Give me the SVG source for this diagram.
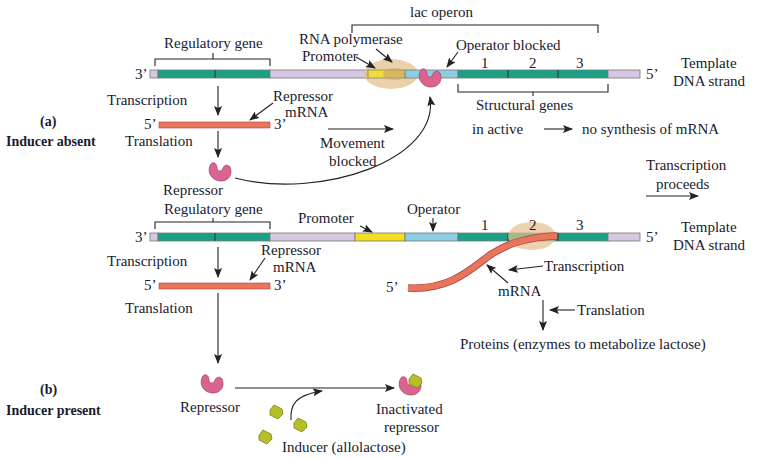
<svg xmlns="http://www.w3.org/2000/svg" width="761" height="460" viewBox="0 0 761 460">
<defs>
<marker id="ah" markerWidth="10" markerHeight="8" refX="9" refY="4" orient="auto" markerUnits="userSpaceOnUse"><path d="M0,0 L10,4 L0,8 L2,4 Z" fill="#222"/></marker>
<g id="rep"><path d="M-9,-6 C-14,2 -8,11 1,11 C9,11 13,4 10,-3 C8,-6 4,-5 3,-2 C2,2 -3,2 -3,-2 C-3,-6 -6,-9 -9,-6 Z" fill="#d9648f" stroke="#b04070" stroke-width="0.8"/></g>
<path id="ind" d="M-6,-2 L-2,-7 L6,-3 L7,2 L2,7 L-6,3 Z" fill="#b5bf2a" stroke="#7d8418" stroke-width="0.8"/>
</defs>
<style>
text{font-family:"Liberation Serif",serif;font-size:15px;fill:#1a1a2e}
.b{font-weight:bold;font-size:14px}
.ln{stroke:#222;stroke-width:1.1;fill:none}
.s{stroke:#777;stroke-width:0.8}
.lav{fill:#d6c8e2}.tea{fill:#1aa084}.yel{fill:#f3de22}.blu{fill:#8dcde2}.mr{fill:#e8765c;stroke:#a44;stroke-width:0.6}
</style>
<rect width="761" height="460" fill="#fff"/>
<g id="strandA">
<rect class="lav s" x="150" y="70" width="8" height="8"/>
<rect class="tea s" x="158" y="70" width="112" height="8"/>
<line x1="215" y1="70" x2="215" y2="78" stroke="#333"/>
<rect class="lav s" x="270" y="70" width="98" height="8"/>
<ellipse cx="391" cy="74" rx="27" ry="15" fill="#e3c08f" opacity="0.75"/>
<rect class="yel s" x="368" y="70" width="37" height="8" opacity="0.85"/>
<ellipse cx="395" cy="74" rx="12" ry="6" fill="#c8a070" opacity="0.6"/>
<rect class="blu s" x="405" y="70" width="53" height="8"/>
<rect class="tea s" x="458" y="70" width="150" height="8"/>
<line x1="508" y1="70" x2="508" y2="78" stroke="#333"/><line x1="558" y1="70" x2="558" y2="78" stroke="#333"/>
<rect class="lav s" x="608" y="70" width="32" height="8"/>
<use href="#rep" x="430" y="76"/>
</g>
<g id="textA">
<text x="410" y="17">lac operon</text>
<text x="164" y="48">Regulatory gene</text>
<text x="299" y="44">RNA polymerase</text>
<text x="302" y="61">Promoter</text>
<text x="456" y="50">Operator blocked</text>
<text x="481" y="68">1</text><text x="529" y="68">2</text><text x="576" y="68">3</text>
<text x="135" y="79">3’</text><text x="646" y="79">5’</text>
<text x="681" y="68">Template</text><text x="673" y="86">DNA strand</text>
<text x="107" y="105">Transcription</text>
<text x="273" y="101">Repressor</text><text x="285" y="117">mRNA</text>
<text x="144" y="129">5’</text><text x="274" y="129">3’</text>
<text x="40" y="126" class="b">(a)</text>
<text x="6" y="146" class="b">Inducer absent</text>
<text x="125" y="146">Translation</text>
<text x="320" y="148">Movement</text><text x="329" y="166">blocked</text>
<text x="476" y="110">Structural genes</text>
<text x="472" y="134">in active</text>
<text x="582" y="134">no synthesis of mRNA</text>
<text x="163" y="195">Repressor</text>
</g>
<rect class="mr" x="159" y="122" width="111" height="6" id="mrnaA"/>
<use href="#rep" x="220" y="170"/>
<g id="connA">
<path class="ln" d="M155,66 V59 H270 V66 M213,59 V53"/>
<path class="ln" d="M352,33 V25 H598 V33"/>
<path class="ln" d="M458,84 V92 H608 V84 M533,92 V96"/>
<line class="ln" x1="218" y1="86" x2="218" y2="115" marker-end="url(#ah)"/>
<line class="ln" x1="218" y1="131" x2="218" y2="157" marker-end="url(#ah)"/>
<line class="ln" x1="273" y1="103" x2="250" y2="120" marker-end="url(#ah)"/>
<line class="ln" x1="328" y1="129" x2="393" y2="129" marker-end="url(#ah)"/>
<line class="ln" x1="544" y1="129" x2="572" y2="129" marker-end="url(#ah)"/>
<path class="ln" d="M376,49 L392,62" marker-end="url(#ah)"/>
<line class="ln" x1="356" y1="57" x2="375" y2="68" marker-end="url(#ah)"/>
<line class="ln" x1="458" y1="52" x2="447" y2="67" marker-end="url(#ah)"/>
<path class="ln" d="M235,178 C320,200 440,160 430,97" marker-end="url(#ah)"/>
</g>
<g id="strandB">
<rect class="lav s" x="150" y="233" width="8" height="8"/>
<rect class="tea s" x="158" y="233" width="112" height="8"/>
<line x1="215" y1="233" x2="215" y2="241" stroke="#333"/>
<rect class="lav s" x="270" y="233" width="85" height="8"/>
<rect class="yel s" x="355" y="233" width="50" height="8"/>
<rect class="blu s" x="405" y="233" width="53" height="8"/>
<rect class="tea s" x="458" y="233" width="150" height="8"/>
<line x1="508" y1="233" x2="508" y2="241" stroke="#333"/><line x1="558" y1="233" x2="558" y2="241" stroke="#333"/>
<rect class="lav s" x="608" y="233" width="32" height="8"/>
<ellipse cx="532" cy="236" rx="24" ry="14" fill="#e3c08f" opacity="0.7"/>
<path d="M408,288 C450,290 470,270 490,255 C510,242 530,237 557,236" fill="none" stroke="#a44" stroke-width="7.5"/>
<path d="M408,288 C450,290 470,270 490,255 C510,242 530,237 557,236" fill="none" stroke="#e8765c" stroke-width="6"/>
</g>
<g id="textB">
<text x="646" y="170">Transcription</text><text x="656" y="189">proceeds</text>
<text x="164" y="214">Regulatory gene</text>
<text x="298" y="223">Promoter</text>
<text x="407" y="214">Operator</text>
<text x="481" y="230">1</text><text x="529" y="230">2</text><text x="576" y="230">3</text>
<text x="135" y="242">3’</text><text x="646" y="242">5’</text>
<text x="681" y="232">Template</text><text x="673" y="250">DNA strand</text>
<text x="261" y="255">Repressor</text><text x="273" y="272">mRNA</text>
<text x="107" y="266">Transcription</text>
<text x="144" y="290">5’</text><text x="274" y="290">3’</text>
<text x="386" y="292">5’</text>
<text x="544" y="271">Transcription</text>
<text x="498" y="296">mRNA</text>
<text x="577" y="315">Translation</text>
<text x="460" y="349">Proteins (enzymes to metabolize lactose)</text>
<text x="125" y="313">Translation</text>
<text x="40" y="394" class="b">(b)</text>
<text x="6" y="415" class="b">Inducer present</text>
<text x="180" y="412">Repressor</text>
<text x="376" y="414">Inactivated</text><text x="384" y="432">repressor</text>
<text x="282" y="452">Inducer (allolactose)</text>
</g>
<rect class="mr" x="159" y="283" width="111" height="6" id="mrnaB"/>
<use href="#rep" x="212" y="382"/>
<g id="inactRep"><use href="#rep" x="410" y="384"/><use href="#ind" x="415" y="381"/></g>
<g id="inducers"><use href="#ind" x="276" y="412"/><use href="#ind" x="300" y="425"/><use href="#ind" x="265" y="437"/></g>
<g id="connB">
<path class="ln" d="M646,196 H698" marker-end="url(#ah)"/>
<path class="ln" d="M155,229 V222 H270 V229 M213,222 V218"/>
<line class="ln" x1="218" y1="247" x2="218" y2="277" marker-end="url(#ah)"/>
<line class="ln" x1="218" y1="293" x2="218" y2="363" marker-end="url(#ah)"/>
<line class="ln" x1="265" y1="258" x2="250" y2="280" marker-end="url(#ah)"/>
<line class="ln" x1="360" y1="226" x2="372" y2="232" marker-end="url(#ah)"/>
<line class="ln" x1="433" y1="218" x2="433" y2="231" marker-end="url(#ah)"/>
<line class="ln" x1="543" y1="266" x2="509" y2="270" marker-end="url(#ah)"/>
<line class="ln" x1="508" y1="283" x2="487" y2="265" marker-end="url(#ah)"/>
<line class="ln" x1="543" y1="300" x2="543" y2="330" marker-end="url(#ah)"/>
<line class="ln" x1="575" y1="310" x2="550" y2="310" marker-end="url(#ah)"/>
<line class="ln" x1="235" y1="388" x2="394" y2="388" marker-end="url(#ah)"/>
<path class="ln" d="M291,420 C290,405 295,395 322,391" marker-end="url(#ah)"/>
</g>
</svg>
